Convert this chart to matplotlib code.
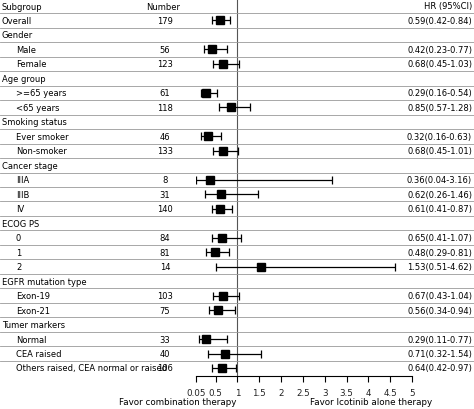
import matplotlib.pyplot as plt
import matplotlib.transforms as mtransforms

# rows: label, number, hr, low, high (None number = group header)
labels = ['Overall', 'Gender', 'Male', 'Female', 'Age group', '>=65 years', '<65 years',
          'Smoking status', 'Ever smoker', 'Non-smoker', 'Cancer stage', 'IIIA', 'IIIB', 'IV',
          'ECOG PS', '0', '1', '2', 'EGFR mutation type', 'Exon-19', 'Exon-21',
          'Tumer markers', 'Normal', 'CEA raised', 'Others raised, CEA normal or raised']
numbers = [179, None, 56, 123, None, 61, 118, None, 46, 133, None, 8, 31, 140,
           None, 84, 81, 14, None, 103, 75, None, 33, 40, 106]
hr = [0.59, None, 0.42, 0.68, None, 0.29, 0.85, None, 0.32, 0.68, None, 0.36, 0.62, 0.61,
      None, 0.65, 0.48, 1.53, None, 0.67, 0.56, None, 0.29, 0.71, 0.64]
low = [0.42, None, 0.23, 0.45, None, 0.16, 0.57, None, 0.16, 0.45, None, 0.04, 0.26, 0.41,
       None, 0.41, 0.29, 0.51, None, 0.43, 0.34, None, 0.11, 0.32, 0.42]
high = [0.84, None, 0.77, 1.03, None, 0.54, 1.28, None, 0.63, 1.01, None, 3.16, 1.46, 0.87,
        None, 1.07, 0.81, 4.62, None, 1.04, 0.94, None, 0.77, 1.54, 0.97]
xticks = [0.05, 0.5, 1, 1.5, 2, 2.5, 3, 3.5, 4, 4.5, 5]

fig = plt.figure(figsize=(4.74, 4.1), dpi=100)
ax = fig.add_axes([196 / 474, 1 - 377 / 410, 216 / 474, 377 / 410])
ax.set_xlim(0.05, 5)
step = 14.48
ax.set_ylim(370 / step, -7 / step)
for s in ['top', 'right', 'left']:
    ax.spines[s].set_visible(False)
ax.set_yticks([])
ax.set_xticks(xticks)
ax.set_xticklabels([str(t) for t in xticks], fontsize=6.3, color='#222')
ax.tick_params(axis='x', length=4, width=0.8, pad=5)
ax.patch.set_alpha(0)

ax.plot([1, 1], [-7 / step, 369 / step + 0.5], color='#555', lw=0.8)

tr = mtransforms.blended_transform_factory(fig.transFigure, ax.transData)
fs = 6.0
ax.text(2 / 474, 0, 'Subgroup', transform=tr, fontsize=fs, va='center')
ax.text(163 / 474, 0, 'Number', transform=tr, fontsize=fs, va='center', ha='center')
ax.text(472 / 474, 0, 'HR (95%CI)', transform=tr, fontsize=fs, va='center', ha='right')

for i, lab in enumerate(labels):
    y = i + 1
    header = numbers[i] is None
    indent = 2 if (header or i == 0) else 16
    ax.text(indent / 474, y, lab, transform=tr, fontsize=fs, va='center')
    if not header:
        ax.text(165 / 474, y, str(numbers[i]), transform=tr, fontsize=fs, va='center', ha='center')
        ax.text(472 / 474, y, f'{hr[i]:.2f}({low[i]:.2f}-{high[i]:.2f})', transform=tr,
                fontsize=fs, va='center', ha='right')
        ax.errorbar(hr[i], y, xerr=[[hr[i] - low[i]], [high[i] - hr[i]]], fmt='s',
                    color='black', ms=6, capsize=3, elinewidth=0.9, capthick=0.9)

for i in range(len(labels)):
    ax.plot([0, 1], [i + 0.5, i + 0.5], transform=tr, color='#999', lw=0.6, clip_on=False)

fig.text(236 / 474, 7 / 410, 'Favor combination therapy', fontsize=6.3, ha='right', va='center')
fig.text(310 / 474, 7 / 410, 'Favor Icotinib alone therapy', fontsize=6.3, ha='left', va='center')

fig.savefig('out.png', dpi=100)
